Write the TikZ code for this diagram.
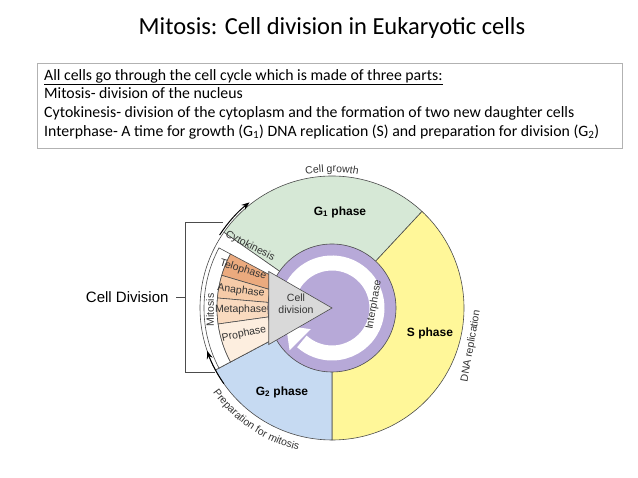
\documentclass[tikz,border=0pt]{standalone}
\usepackage{fontspec}
\setmainfont{Carlito}
\newfontfamily\arial{Liberation Sans}
\usetikzlibrary{decorations.text,arrows.meta,calc}
\definecolor{gone}{HTML}{D6E8D6}
\definecolor{sph}{HTML}{FFF799}
\definecolor{gtwo}{HTML}{C6DAF2}
\definecolor{purp}{HTML}{B7A9D8}
\definecolor{grayc}{HTML}{D9D9D9}
\definecolor{telo}{HTML}{EBAA7E}
\definecolor{ana}{HTML}{F6CBA8}
\definecolor{meta}{HTML}{F9DABF}
\definecolor{pro}{HTML}{FDEEDF}
\tikzset{seg/.style={draw=black!70,line width=0.6pt},
  lab/.style={font=\arial\fontsize{10.5}{11.5}\selectfont,text=black!80,inner sep=1pt},
  blab/.style={font=\arial\bfseries\fontsize{12}{13}\selectfont},
  bar/.style={draw=black!70,line width=0.7pt}}
\begin{document}
\begin{tikzpicture}[x=1pt,y=1pt]
\useasboundingbox (0,0) rectangle (638,478);
\node[font=\fontsize{24.5}{28}\selectfont] (title) at (332,450) {Mitosis: Cell division in Eukaryotic cells};
\draw[black!30] (37,415) rectangle (622,330);
\node[anchor=north west,align=left,font=\fontsize{15.8}{18.8}\selectfont,inner sep=0pt] (txt) at (44,409) {\underline{All cells go through the cell cycle which is made of three parts:}\\
Mitosis- division of the nucleus\\
Cytokinesis- division of the cytoplasm and the formation of two new daughter cells\\
Interphase- A time for growth (G\textsubscript{1}) DNA replication (S) and preparation for division (G\textsubscript{2})};
\begin{scope}[shift={(332,170)}]
\coordinate (C) at (0,0);
\fill[gone,seg] (0,0) -- (47:132) arc[start angle=47,end angle=145,radius=132] -- cycle;
\fill[sph,seg] (0,0) -- (-90:132) arc[start angle=-90,end angle=47,radius=132] -- cycle;
\fill[gtwo,seg] (0,0) -- (208:132) arc[start angle=208,end angle=270,radius=132] -- cycle;
\fill[white,seg] (0,0) -- (145:132) arc[start angle=145,end angle=208,radius=132] -- cycle;
\draw[seg,fill=white] (152:115) arc[start angle=152,end angle=208,radius=115] -- (208:128) arc[start angle=208,end angle=152,radius=128] -- cycle;
\foreach \a/\b/\c in {152/163.5/telo,163.5/175/ana,175/188/meta,188/208/pro}
  \draw[seg,fill=\c] (\a:64) arc[start angle=\a,end angle=\b,radius=64] -- (\b:115) arc[start angle=\b,end angle=\a,radius=115] -- cycle;
\fill[purp,seg] (0,0) circle[radius=64];
\draw[white,line width=15pt] (150:45) arc[start angle=150,end angle=-132,radius=45];
\coordinate (ah) at (-135:45);
\fill[white] ($(ah)+(-135:15)$) -- ($(ah)+(45:15)$) -- ($(ah)+(135:20)$) -- cycle;
\fill[grayc,seg] (0,0) -- (150:73) -- (210:73) -- cycle;
\node[lab,align=center] (cd) at (-36,4) {Cell\\division};
\node[lab,rotate=80] (inter) at (42,3) {Interphase};
\node[lab,rotate=-27] (cyto) at (-82,62) {Cytokinesis};
\node[lab,rotate=-17] (telo) at (-89,38) {Telophase};
\node[lab,rotate=-7] (ana) at (-91,17) {Anaphase};
\node[lab] (meta) at (-91,-2) {Metaphase};
\node[lab,rotate=12] (pro) at (-88,-26) {Prophase};
\node[lab,rotate=90] (mit) at (-122,-2) {Mitosis};
\node[blab] (g1) at (8,96) {G\textsubscript{1} phase};
\node[blab] (s) at (98,-25) {S phase};
\node[blab] (g2) at (-50,-84) {G\textsubscript{2} phase};
\node[lab,rotate=80] (dna) at (139,-38) {DNA replication};
\draw[decorate,decoration={text along path,text={|\arial\fontsize{10.5}{11}\selectfont\color{black!80}|Cell growth},text align=center}] (110:136) arc[start angle=110,end angle=70,radius=136];
\draw[decorate,decoration={text along path,text={|\arial\fontsize{10.5}{11}\selectfont\color{black!80}|Preparation for mitosis},text align=center}] (200:146) arc[start angle=200,end angle=272,radius=146];
\draw[-{Stealth[length=8pt,width=6pt]},line width=1pt] (147:134) arc[start angle=147,end angle=128,radius=134];
\draw[-{Stealth[length=8pt,width=6pt]},line width=1pt] (215:132) arc[start angle=215,end angle=199,radius=132];
\end{scope}
\coordinate (bt) at (223,256);
\coordinate (bb) at (215,106);
\draw[bar] (bt) -- (185,256) -- (185,106) -- (bb);
\draw[bar] (185,181) -- (176,181);
\node[font=\arial\fontsize{15}{17}\selectfont,anchor=east] (celldiv) at (172,181) {Cell Division};
\end{tikzpicture}
\end{document}
